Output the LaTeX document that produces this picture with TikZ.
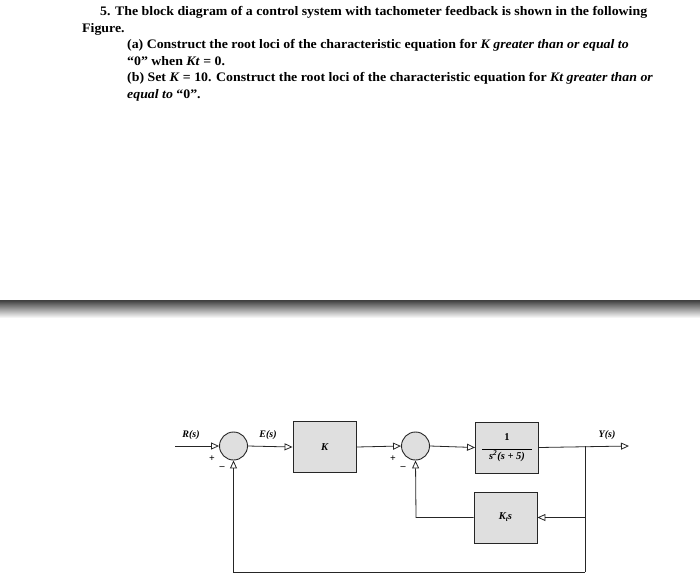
\documentclass[tikz,border=0pt]{standalone}
\usepackage{fontspec}
\setmainfont{Liberation Serif}
\usetikzlibrary{arrows.meta}
\newcommand{\wtxt}[1]{\scalebox{1.065}[1]{#1}}
\tikzset{
  txt/.style={anchor=base west, inner sep=0pt, font=\fontsize{13}{15}\selectfont\bfseries},
  blk/.style={draw=black!85, line width=0.9pt, fill=gray!25, minimum width=63pt, minimum height=51pt, inner sep=0pt, font=\fontsize{10.5}{12}\selectfont\bfseries\itshape},
  sumc/.style={circle, draw=black!85, line width=0.9pt, fill=gray!25, minimum size=28pt, inner sep=0pt},
  lbl/.style={inner sep=0pt, font=\fontsize{10}{11}\selectfont\bfseries\itshape},
  sgn/.style={inner sep=0pt, font=\fontsize{10}{11}\selectfont\bfseries},
  wire/.style={draw=black!85, line width=0.8pt},
  arr/.style={wire, -{Triangle[open, length=8pt, width=7pt]}}
}
\begin{document}
\begin{tikzpicture}[x=1pt, y=-1pt]
\useasboundingbox (0,0) rectangle (700,579);
% text
\node[txt] (l1) at (100,15) {\wtxt{5. The block diagram of a control system with tachometer feedback is shown in the following}};
\node[txt] (l2) at (82,32) {\wtxt{Figure.}};
\node[txt] (l3) at (127,48) {\wtxt{(a) Construct the root loci of the characteristic equation for \textit{K greater than or equal to}}};
\node[txt] (l4) at (127,65) {\wtxt{``0'' when \textit{Kt} = 0.}};
\node[txt] (l5) at (127,81) {\wtxt{(b) Set \textit{K} = 10. Construct the root loci of the characteristic equation for \textit{Kt greater than or}}};
\node[txt] (l6) at (127,98) {\wtxt{\textit{equal to} ``0''.}};
% band
\fill[black!75] (0,299.5) rectangle (700,301);
\shade[top color=black!72, bottom color=white] (0,301) rectangle (700,318);
% diagram
\node[sumc] (s1) at (233.5,446) {};
\node[sumc] (s2) at (415.5,446) {};
\node[blk] (k) at (324.5,447) {K};
\node[blk] (g) at (507,447.5) {\begin{tabular}{@{}c@{}}\upshape 1\\[-3pt]\rule{50pt}{0.5pt}\\[-2pt]s\textsuperscript{2}(s + 5)\end{tabular}};
\node[blk] (kt) at (505.5,517.5) {K\raisebox{-2pt}{\scriptsize t}s};
\coordinate (rin) at (175,446);
\coordinate (yout) at (629,446);
\coordinate (br) at (585,446);
\coordinate (c1) at (416,517.5);
\coordinate (c2) at (585,572);
\coordinate (c3) at (233.5,572);
\draw[arr] (rin) -- (s1.west);
\draw[arr] (s1.east) -- (k.west);
\draw[arr] (k.east) -- (s2.west);
\draw[arr] (s2.east) -- (g.west);
\draw[arr] (g.east) -- (yout);
\draw[wire] (br) -- (c2);
\draw[arr] (br |- kt.east) -- (kt.east);
\draw[arr] (kt.west) -- (c1) -- (s2.south);
\draw[arr] (c2) -- (c3) -- (s1.south);
% labels
\node[lbl] (rl) at (191,435) {R(s)};
\node[lbl] (el) at (268,435) {E(s)};
\node[lbl] (yl) at (607,435) {Y(s)};
\node[sgn] (p1) at (212,459) {+};
\node[sgn] (m1) at (222,468) {--};
\node[sgn] (p2) at (393,459) {+};
\node[sgn] (m2) at (403,468) {--};
\end{tikzpicture}
\end{document}
